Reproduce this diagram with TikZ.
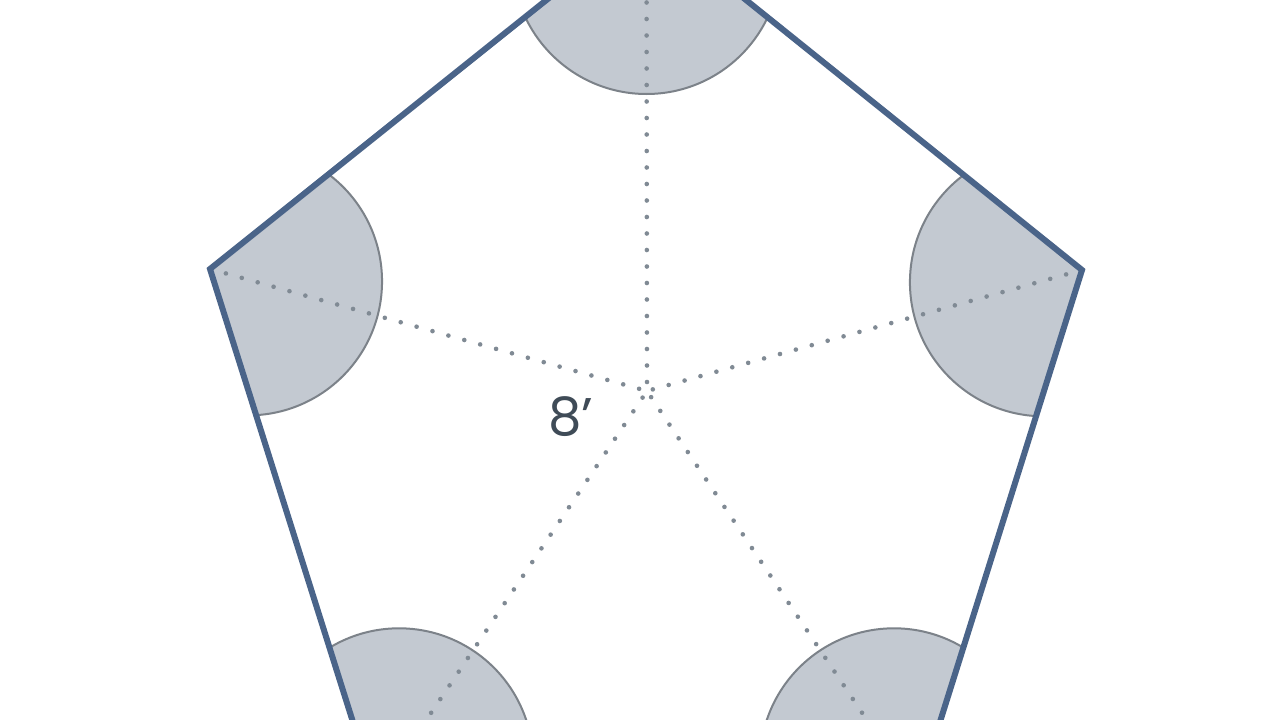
\documentclass[tikz,border=0pt]{standalone}
\usepackage{fontspec}
\setmainfont{Poppins}
\usetikzlibrary{calc}
\definecolor{edgeblue}{HTML}{4A6489}
\definecolor{sectorfill}{HTML}{C3C9D1}
\definecolor{arcgray}{HTML}{7C8289}
\definecolor{dotgray}{HTML}{808A94}
\definecolor{textgray}{HTML}{3F4B57}
\tikzset{
  edge/.style={draw=edgeblue, line width=6pt, line join=miter},
  sector/.style={fill=sectorfill, draw=arcgray, line width=2pt},
  dotline/.style={draw=dotgray, line width=4.6pt, line cap=round, dash pattern=on 0pt off 16.5pt},
  lbl/.style={text=textgray, font=\fontsize{53}{56}\selectfont, inner sep=0pt}
}
\begin{document}
\begin{tikzpicture}[x=1pt,y=-1pt]
\useasboundingbox[fill=white] (0,0) rectangle (1280,720);
\coordinate (T) at (646.5,-80);
\coordinate (L) at (210,269);
\coordinate (R) at (1082,270);
\coordinate (BL) at (376,795);
\coordinate (BR) at (917,795);
\coordinate (C) at (646.5,411);
\coordinate (H) at (647,391);
\begin{scope}
  \clip (T)--(L)--(BL)--(BR)--(R)--cycle;
  \foreach \v in {T,L,R,BL,BR}
    \path[sector] ($(\v)!40pt!(C)$) circle[radius=134pt];
\end{scope}
\foreach \v in {T,L,R,BL,BR}
  \draw[dotline] (\v) -- (H);
\draw[edge] (T)--(L)--(BL)--(BR)--(R)--cycle;
\node[lbl, anchor=base] (len) at (571,435) {8’};
\end{tikzpicture}
\end{document}
